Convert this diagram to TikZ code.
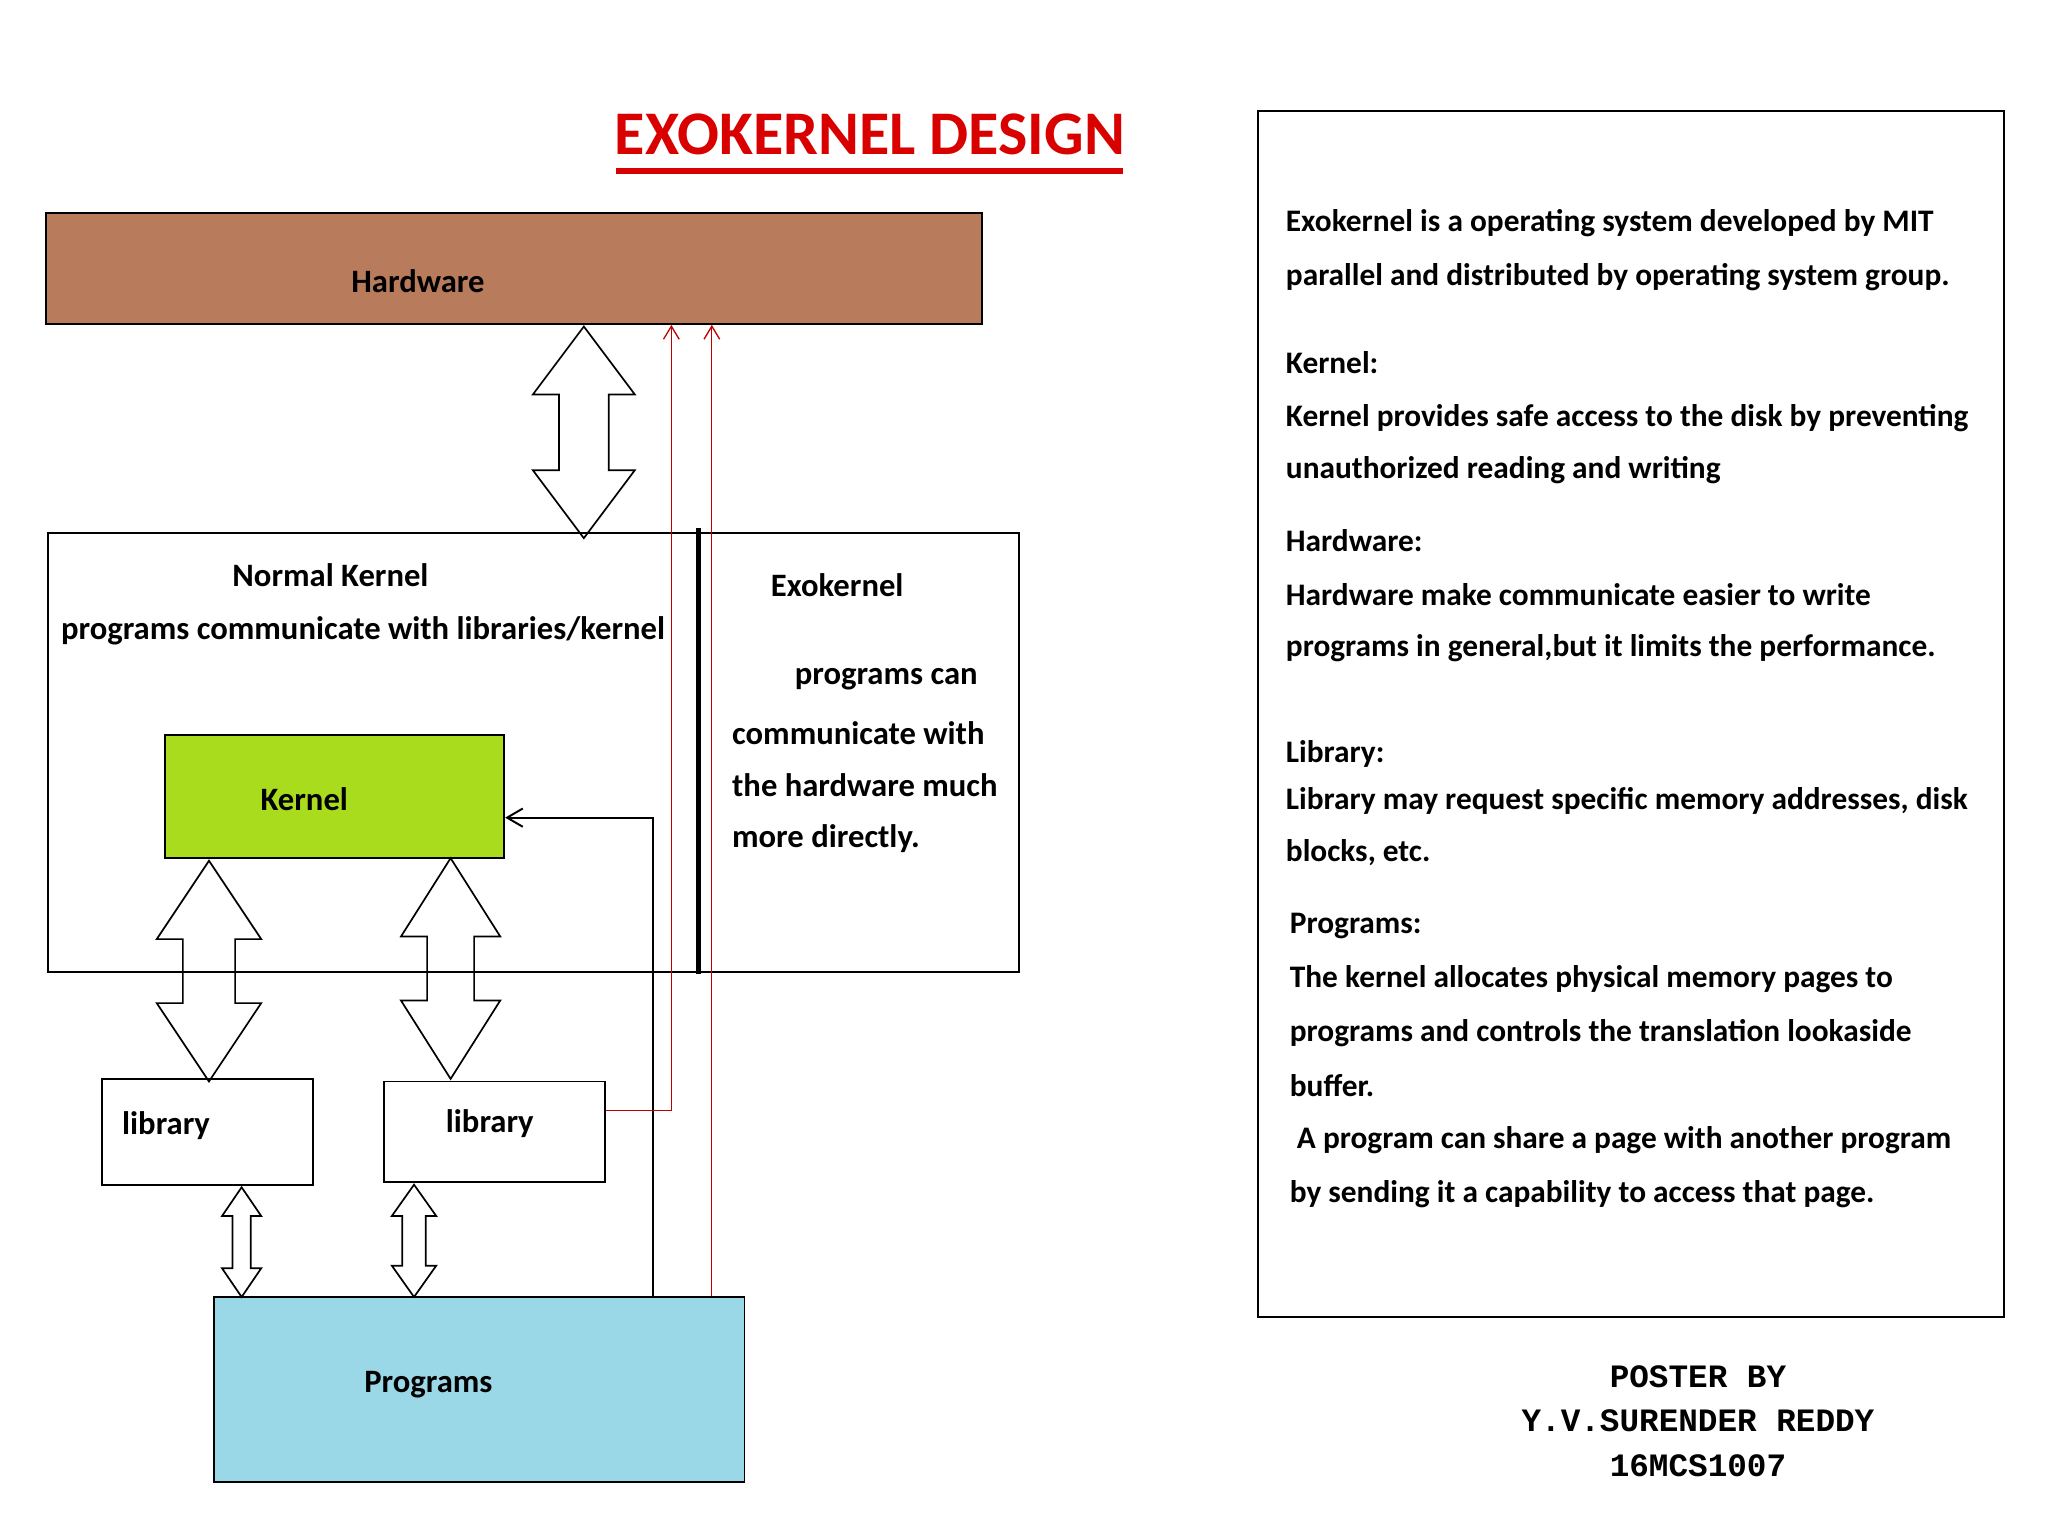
\documentclass[tikz,border=0pt]{standalone}
\usepackage{fontspec}
\usetikzlibrary{arrows.meta}
\setmainfont{Carlito}
\newfontfamily\monof{Liberation Mono}
\begin{document}
\begin{tikzpicture}[x=1pt,y=-1pt,
  box/.style={draw,line width=1.5pt,inner sep=0},
  lbl/.style={font=\bfseries\fontsize{25}{30}\selectfont,anchor=center},
  rt/.style={font=\bfseries\fontsize{24}{28}\selectfont,anchor=west},
  red/.style={draw=red!75!black,line width=1pt},
  blk/.style={draw=black,line width=1.8pt}]
\newcommand\dblarr[6]{% cx ytop ybot headhalf shafthalf headlen
  \draw[line width=1.3pt] (#1,#2) -- (#1+#4,#2+#6) -- (#1+#5,#2+#6) -- (#1+#5,#3-#6) -- (#1+#4,#3-#6)
   -- (#1,#3) -- (#1-#4,#3-#6) -- (#1-#5,#3-#6) -- (#1-#5,#2+#6) -- (#1-#4,#2+#6) -- cycle;}
\useasboundingbox (0,0) rectangle (1568,1176);
\fill[white] (0,0) rectangle (1568,1176);
% title
\node (title) at (666,103) {\bfseries\color{red!85!black}\fontsize{47.5}{54}\selectfont EXOKERNEL DESIGN};
\draw[red!85!black,line width=4pt] (472,131) -- (860,131);
% hardware
\node[box,fill={rgb,255:red,184;green,124;blue,92},minimum width=717,minimum height=85] (hw) at (393.5,205.5) {};
\node[lbl] at (320,215) {Hardware};
% normal kernel box
\node[box,minimum width=743,minimum height=336] (nk) at (408.5,576) {};
\draw[line width=3.5pt] (535,404) -- (535,746);
\node[lbl] at (253,440) {Normal Kernel};
\node[lbl] at (278,483) {programs communicate with libraries/kernel};
\node[lbl] at (641,448) {Exokernel};
\node[lbl,anchor=west] at (605,520) {programs can};
\node[lbl,anchor=west] at (557,561) {communicate with};
\node[lbl,anchor=west] at (557,601) {the hardware much};
\node[lbl,anchor=west] at (557,642) {more directly.};
% kernel
\node[box,fill={rgb,255:red,170;green,220;blue,30},minimum width=260,minimum height=94] (k) at (256,610) {};
\node[lbl] at (233,612) {Kernel};
% libraries
\node[box,fill=white,minimum width=162,minimum height=81] (l1) at (159,866.5) {};
\node[lbl,anchor=west] at (90,862) {library};
\node[box,fill=white,minimum width=169,minimum height=77] (l2) at (378.5,866.5) {};
\node[lbl] at (375,860) {library};
% programs
\node[box,fill={rgb,255:red,154;green,216;blue,232},minimum width=406,minimum height=142] (pr) at (367,1064) {};
\node[lbl] at (328,1060) {Programs};
% connectors
\dblarr{447}{250}{412}{39}{19}{52}
\dblarr{160}{659}{828}{40}{20}{60}
\dblarr{345}{657}{826}{38}{18}{60}
\dblarr{185}{909}{993}{15}{7}{22}
\dblarr{317}{907}{993}{17}{9}{24}
\draw[blk,line width=1.5pt,->,>={Straight Barb[length=12pt,width=14pt]}] (pr.north -| 500,0) -- (500,626) -- (k.east |- 0,626);
\draw[red,->,>={Straight Barb[length=10pt,width=12pt]}] (l2.east |- 0,850) -- (514,850) -- (hw.south -| 514,0);
\draw[red,->,>={Straight Barb[length=10pt,width=12pt]}] (pr.north -| 545,0) -- (hw.south -| 545,0);
% right text box
\node[box,minimum width=571,minimum height=923] (info) at (1248.5,546.5) {};
\node[rt] at (981,171) {Exokernel is a operating system developed by MIT};
\node[rt] at (981,212) {parallel and distributed by operating system group.};
\node[rt] at (981,278) {Kernel:};
\node[rt] at (981,320) {Kernel provides safe access to the disk by preventing};
\node[rt] at (981,360) {unauthorized reading and writing};
\node[rt] at (981,414) {Hardware:};
\node[rt] at (981,455) {Hardware make communicate easier to write};
\node[rt] at (981,496) {programs in general,but it limits the performance.};
\node[rt] at (981,577) {Library:};
\node[rt] at (981,613) {Library may request specific memory addresses, disk};
\node[rt] at (981,653) {blocks, etc.};
\node[rt] at (984,709) {Programs:};
\node[rt] at (984,750) {The kernel allocates physical memory pages to};
\node[rt] at (984,791) {programs and controls the translation lookaside};
\node[rt] at (984,831) {buffer.};
\node[rt] at (984,873) {\ A program can share a page with another program};
\node[rt] at (984,914) {by sending it a capability to access that page.};
% poster by
\node[font=\monof\bfseries\fontsize{25}{34}\selectfont,align=center] (pb) at (1300,1088) {POSTER BY\\Y.V.SURENDER REDDY\\16MCS1007};
\end{tikzpicture}
\end{document}
